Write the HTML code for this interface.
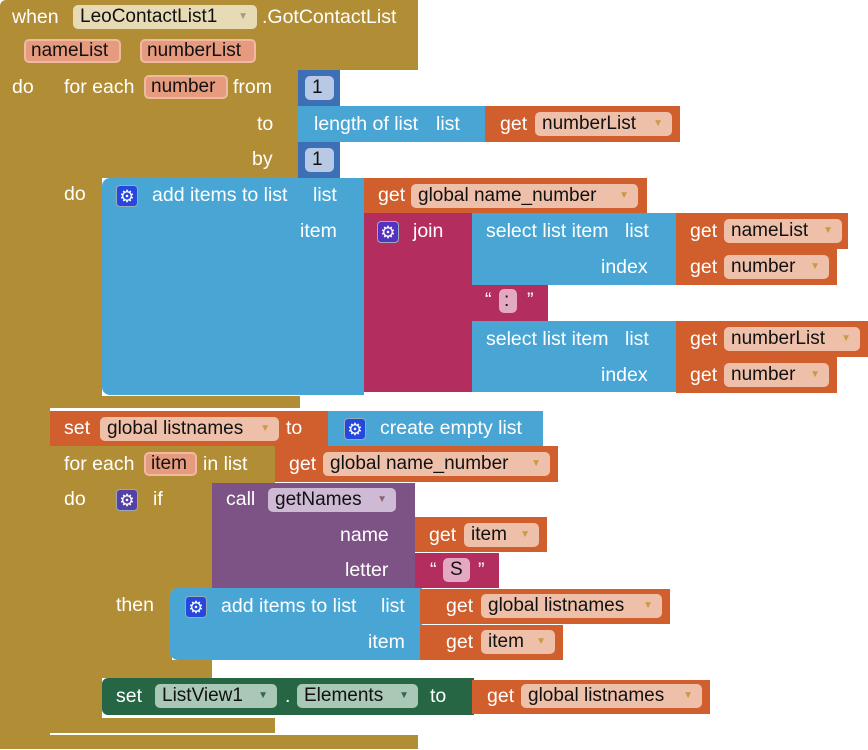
<!DOCTYPE html>
<html><head><meta charset="utf-8"><style>
body{margin:0;width:868px;height:750px;background:#fff;position:relative;overflow:hidden;font-family:"Liberation Sans",sans-serif}
div,span{position:absolute;box-sizing:border-box}
.t{color:#fff;font-size:19.5px;line-height:24px;margin-top:-1px;white-space:nowrap}
.p{font-size:19px;line-height:24px;color:#111;border-radius:5px;white-space:nowrap;padding-left:7px;height:24px;overflow:hidden}
.p i{font-style:normal;font-size:10px;position:absolute;right:9px;top:0;color:#c94}
.G{background:#B18E35}.O{background:#D05F2D}.B{background:#49A6D4}.D{background:#3C6FB4}.M{background:#B32D5E}.U{background:#7D5385}.N{background:#266645}
.po{background:#EFC0A9}.pa{background:#E69A7E;border:2px solid #F0B9A2;padding-left:5px;line-height:20px}.pe{background:#E7DBB5}.pd{background:#B7C9E5}.pm{background:#E3A9C2}.pu{background:#CFBAD5}.pn{background:#A9C8B6}
.gear{width:22px;height:22px;border-radius:4px;background:#2447DD;color:#fff;font-size:17px;line-height:22px;text-align:center;border:1px solid #9ab}
</style></head><body>
<!-- event block -->
<div class="G" style="left:0;top:0;width:418px;height:70px;border-radius:6px 0 0 0"></div>
<div class="G" style="left:0;top:70px;width:50px;height:678px"></div>
<div class="G" style="left:0;top:735px;width:418px;height:14px"></div>
<span class="t" style="left:12px;top:6px">when</span>
<div class="p pe" style="left:73px;top:5px;width:184px">LeoContactList1<i style="color:#a98">▼</i></div>
<span class="t" style="left:262px;top:6px">.GotContactList</span>
<div class="p pa" style="left:24px;top:39px;width:97px">nameList</div>
<div class="p pa" style="left:140px;top:39px;width:116px">numberList</div>
<span class="t" style="left:12px;top:76px">do</span>
<!-- for range -->
<div class="G" style="left:50px;top:70px;width:250px;height:108px"></div>
<div class="G" style="left:50px;top:178px;width:52px;height:230px"></div>
<div class="G" style="left:50px;top:396px;width:250px;height:12px"></div>
<span class="t" style="left:64px;top:76px">for each</span>
<div class="p pa" style="left:144px;top:75px;width:84px">number</div>
<span class="t" style="left:233px;top:76px">from</span>
<span class="t" style="left:257px;top:113px">to</span>
<span class="t" style="left:252px;top:148px">by</span>
<div class="D" style="left:298px;top:70px;width:42px;height:36px"></div>
<div class="p pd" style="left:305px;top:76px;width:29px">1</div>
<div class="D" style="left:298px;top:142px;width:42px;height:36px"></div>
<div class="p pd" style="left:305px;top:148px;width:29px">1</div>
<div class="B" style="left:298px;top:106px;width:189px;height:36px"></div>
<span class="t" style="left:314px;top:113px">length of list</span>
<span class="t" style="left:436px;top:113px">list</span>
<div class="O" style="left:485px;top:106px;width:195px;height:36px"></div>
<span class="t" style="left:500px;top:113px">get</span>
<div class="p po" style="left:535px;top:112px;width:137px">numberList<i>▼</i></div>
<span class="t" style="left:64px;top:183px">do</span>
<!-- add items 1 -->
<div class="B" style="left:102px;top:178px;width:262px;height:217px;border-radius:8px 0 0 8px"></div>
<div class="gear" style="left:116px;top:185px">⚙</div>
<span class="t" style="left:152px;top:184px">add items to list</span>
<span class="t" style="left:313px;top:184px">list</span>
<span class="t" style="left:300px;top:220px">item</span>
<div class="O" style="left:364px;top:178px;width:283px;height:35px"></div>
<span class="t" style="left:378px;top:184px">get</span>
<div class="p po" style="left:411px;top:184px;width:227px">global name_number<i>▼</i></div>
<div class="M" style="left:364px;top:213px;width:110px;height:179px"></div>
<div class="gear" style="left:377px;top:221px;background:#5533C0">⚙</div>
<span class="t" style="left:413px;top:220px">join</span>
<div class="B" style="left:472px;top:213px;width:206px;height:72px"></div>
<span class="t" style="left:486px;top:220px">select list item</span>
<span class="t" style="left:625px;top:220px">list</span>
<span class="t" style="left:601px;top:256px">index</span>
<div class="O" style="left:676px;top:213px;width:172px;height:36px"></div>
<span class="t" style="left:690px;top:220px">get</span>
<div class="p po" style="left:724px;top:219px;width:118px">nameList<i>▼</i></div>
<div class="O" style="left:676px;top:249px;width:161px;height:36px"></div>
<span class="t" style="left:690px;top:256px">get</span>
<div class="p po" style="left:724px;top:255px;width:105px">number<i>▼</i></div>
<div class="M" style="left:472px;top:285px;width:76px;height:36px"></div>
<span class="t" style="left:485px;top:289px">“</span>
<div class="p pm" style="left:499px;top:289px;width:18px;padding-left:5px">:</div>
<span class="t" style="left:527px;top:289px">”</span>
<div class="B" style="left:472px;top:321px;width:206px;height:71px"></div>
<span class="t" style="left:486px;top:328px">select list item</span>
<span class="t" style="left:625px;top:328px">list</span>
<span class="t" style="left:601px;top:364px">index</span>
<div class="O" style="left:676px;top:321px;width:192px;height:36px"></div>
<span class="t" style="left:690px;top:328px">get</span>
<div class="p po" style="left:724px;top:327px;width:136px">numberList<i>▼</i></div>
<div class="O" style="left:676px;top:357px;width:161px;height:36px"></div>
<span class="t" style="left:690px;top:364px">get</span>
<div class="p po" style="left:724px;top:363px;width:105px">number<i>▼</i></div>
<!-- set global listnames -->
<div class="O" style="left:50px;top:411px;width:280px;height:35px"></div>
<span class="t" style="left:64px;top:417px">set</span>
<div class="p po" style="left:100px;top:417px;width:179px">global listnames<i>▼</i></div>
<span class="t" style="left:286px;top:417px">to</span>
<div class="B" style="left:328px;top:411px;width:215px;height:35px"></div>
<div class="gear" style="left:344px;top:418px">⚙</div>
<span class="t" style="left:380px;top:417px">create empty list</span>
<!-- for each item -->
<div class="G" style="left:50px;top:446px;width:225px;height:37px"></div>
<div class="G" style="left:50px;top:483px;width:52px;height:250px"></div>
<div class="G" style="left:50px;top:718px;width:225px;height:15px"></div>
<span class="t" style="left:64px;top:453px">for each</span>
<div class="p pa" style="left:144px;top:452px;width:53px">item</div>
<span class="t" style="left:203px;top:453px">in list</span>
<div class="O" style="left:275px;top:446px;width:283px;height:36px"></div>
<span class="t" style="left:289px;top:453px">get</span>
<div class="p po" style="left:323px;top:452px;width:227px">global name_number<i>▼</i></div>
<span class="t" style="left:64px;top:488px">do</span>
<!-- if -->
<div class="G" style="left:102px;top:483px;width:112px;height:107px"></div>
<div class="G" style="left:102px;top:588px;width:70px;height:90px"></div>
<div class="G" style="left:102px;top:660px;width:110px;height:18px"></div>
<div class="gear" style="left:116px;top:489px;background:#5540A5">⚙</div>
<span class="t" style="left:153px;top:488px">if</span>
<span class="t" style="left:116px;top:594px">then</span>
<div class="U" style="left:212px;top:483px;width:203px;height:105px"></div>
<span class="t" style="left:226px;top:488px">call</span>
<div class="p pu" style="left:268px;top:488px;width:128px">getNames<i style="color:#867">▼</i></div>
<span class="t" style="left:340px;top:524px">name</span>
<span class="t" style="left:345px;top:559px">letter</span>
<div class="O" style="left:415px;top:517px;width:132px;height:35px"></div>
<span class="t" style="left:429px;top:524px">get</span>
<div class="p po" style="left:464px;top:523px;width:75px">item<i>▼</i></div>
<div class="M" style="left:415px;top:553px;width:84px;height:35px"></div>
<span class="t" style="left:430px;top:559px">“</span>
<div class="p pm" style="left:443px;top:558px;width:27px">S</div>
<span class="t" style="left:478px;top:559px">”</span>
<div class="B" style="left:170px;top:588px;width:252px;height:72px;border-radius:8px 0 0 8px"></div>
<div class="gear" style="left:185px;top:596px">⚙</div>
<span class="t" style="left:221px;top:595px">add items to list</span>
<span class="t" style="left:381px;top:595px">list</span>
<span class="t" style="left:368px;top:631px">item</span>
<div class="O" style="left:420px;top:589px;width:250px;height:35px"></div>
<span class="t" style="left:446px;top:595px">get</span>
<div class="p po" style="left:481px;top:594px;width:181px">global listnames<i>▼</i></div>
<div class="O" style="left:420px;top:625px;width:143px;height:35px"></div>
<span class="t" style="left:446px;top:631px">get</span>
<div class="p po" style="left:481px;top:630px;width:74px">item<i>▼</i></div>
<!-- set ListView -->
<div class="N" style="left:102px;top:678px;width:372px;height:37px;border-radius:6px 0 0 6px"></div>
<span class="t" style="left:116px;top:685px">set</span>
<div class="p pn" style="left:155px;top:684px;width:122px">ListView1<i style="color:#365">▼</i></div>
<span class="t" style="left:285px;top:685px">.</span>
<div class="p pn" style="left:297px;top:684px;width:121px">Elements<i style="color:#365">▼</i></div>
<span class="t" style="left:430px;top:685px">to</span>
<div class="O" style="left:472px;top:680px;width:238px;height:34px"></div>
<span class="t" style="left:487px;top:685px">get</span>
<div class="p po" style="left:521px;top:684px;width:181px">global listnames<i>▼</i></div>
</body></html>
